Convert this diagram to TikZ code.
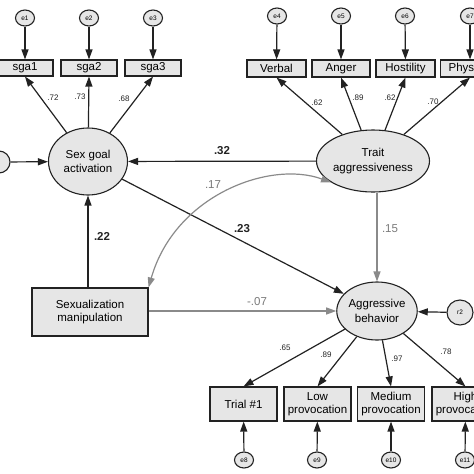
\documentclass[tikz,border=0pt]{standalone}
\usepackage{fontspec}
\setmainfont{Liberation Sans}
\usetikzlibrary{shapes.geometric,arrows.meta}
\definecolor{boxfill}{HTML}{E6E6E6}
\definecolor{linec}{HTML}{222222}
\definecolor{grayc}{HTML}{8A8A8A}
\definecolor{graytxt}{HTML}{7A7A7A}
\tikzset{
  obs/.style={draw=linec, line width=1.1pt, fill=boxfill, rectangle, inner sep=0pt, align=center,
    font=\fontsize{11.5}{13.5}\selectfont},
  lat/.style={draw=linec, line width=1.1pt, fill=boxfill, ellipse, inner sep=0pt, align=center,
    font=\fontsize{11.5}{14.5}\selectfont},
  err/.style={draw=linec, line width=1.1pt, fill=boxfill, ellipse, inner sep=0pt,
    minimum width=19pt, minimum height=16pt, font=\fontsize{6.5}{7}\selectfont},
  arr/.style={draw=linec, line width=1.2pt, -{Triangle[length=10pt,width=7pt]}},
  garr/.style={draw=grayc, line width=1.2pt, -{Triangle[length=10pt,width=7pt]}},
  ld/.style={font=\fontsize{8}{9}\selectfont, text=linec, inner sep=0pt},
  pb/.style={font=\bfseries\fontsize{11.5}{13}\selectfont, text=linec, inner sep=0pt},
  pg/.style={font=\fontsize{11.5}{13}\selectfont, text=graytxt, inner sep=0pt},
}
\begin{document}
\begin{tikzpicture}[x=1pt,y=-1pt]
\useasboundingbox (0,0) rectangle (474,474);
\clip (0,0) rectangle (474,474);
% latent variables
\node[lat, minimum width=79pt, minimum height=67pt] (sg) at (88,161.5) {Sex goal\\activation};
\node[lat, minimum width=88pt, minimum height=62pt] (ta) at (373,161) {Trait\\aggressiveness};
\node[lat, minimum width=79pt, minimum height=58pt] (ab) at (377,311) {Aggressive\\behavior};
\node[obs, minimum width=116pt, minimum height=48pt] (sm) at (90,312) {Sexualization\\manipulation};
% sga indicators
\node[obs, minimum width=56pt, minimum height=16pt] (sga1) at (25,68) {sga1};
\node[obs, minimum width=56pt, minimum height=16pt] (sga2) at (89,68) {sga2};
\node[obs, minimum width=56pt, minimum height=16pt] (sga3) at (153,68) {sga3};
\node[err] (e1) at (25,18) {e1};
\node[err] (e2) at (89,18) {e2};
\node[err] (e3) at (153,18) {e3};
% trait indicators
\node[obs, minimum width=59pt, minimum height=17pt] (verb) at (276.5,68.5) {Verbal};
\node[obs, minimum width=58pt, minimum height=17pt] (ang) at (341,68.5) {Anger};
\node[obs, minimum width=59pt, minimum height=17pt] (hos) at (405.5,68.5) {Hostility};
\node[obs, minimum width=59pt, minimum height=17pt] (phy) at (470,68.5) {Physical};
\node[err] (e4) at (277,16) {e4};
\node[err] (e5) at (341,16) {e5};
\node[err] (e6) at (405,16) {e6};
\node[err] (e7) at (470,16) {e7};
% behaviour indicators
\node[obs, minimum width=67pt, minimum height=34pt] (tr) at (243.5,404) {Trial \#1};
\node[obs, minimum width=67pt, minimum height=34pt] (lo) at (317.5,404) {Low\\provocation};
\node[obs, minimum width=67pt, minimum height=34pt] (me) at (391,404) {Medium\\provocation};
\node[obs, minimum width=67pt, minimum height=34pt] (hi) at (465.5,404) {High\\provocation};
\node[err] (e8) at (244,460) {e8};
\node[err] (e9) at (317,460) {e9};
\node[err] (e10) at (391,460) {e10};
\node[err] (e11) at (465,460) {e11};
% residuals
\node[err, minimum width=22pt, minimum height=22pt] (r1) at (-1,162) {};
\node[err, minimum width=26pt, minimum height=25pt] (r2) at (460,312.5) {r2};
% error arrows
\foreach \e/\b in {e1/sga1,e2/sga2,e3/sga3,e4/verb,e5/ang,e6/hos,e7/phy,e8/tr,e9/lo,e10/me,e11/hi}
  \draw[arr] (\e) -- (\b);
\draw[arr] (r1) -- (sg);
\draw[arr] (r2) -- (ab);
% loadings
\foreach \b in {sga1,sga2,sga3} \draw[arr] (sg) -- (\b.south);
\foreach \b in {verb,ang,hos,phy} \draw[arr] (ta) -- (\b.south);
\foreach \b in {tr,lo,me,hi} \draw[arr] (ab) -- (\b.north);
% structural paths
\draw[arr] (ta) -- (sg);
\draw[arr] (sm.north -| sg.south) -- (sg.south);
\draw[arr] (sg) -- (ab);
\draw[garr] (ta.south -| ab.north) -- (ab.north);
\draw[garr] (sm.east |- ab.west) -- (ab.west);
\draw[grayc, line width=1.2pt, {Triangle[length=10pt,width=7pt]}-{Triangle[length=10pt,width=7pt]}]
  (sm.north east) .. controls (175,195) and (270,160) .. (ta.207);
% labels
\node[ld] (l1) at (53,98) {.72};
\node[ld] (l2) at (80,97) {.73};
\node[ld] (l3) at (124,99) {.68};
\node[ld] (l4) at (317,103) {.62};
\node[ld] (l5) at (358,98) {.89};
\node[ld] (l6) at (390,98) {.62};
\node[ld] (l7) at (433,102) {.70};
\node[ld] (l8) at (285,348) {.65};
\node[ld] (l9) at (326,355) {.89};
\node[ld] (l10) at (397,359) {.97};
\node[ld] (l11) at (446,352) {.78};
\node[pb] (p1) at (222,151) {.32};
\node[pb] (p2) at (102,236) {.22};
\node[pb] (p3) at (242,229) {.23};
\node[pg] (p4) at (213,185) {.17};
\node[pg] (p5) at (390,229) {.15};
\node[pg] (p6) at (257,302) {-.07};
\end{tikzpicture}
\end{document}
